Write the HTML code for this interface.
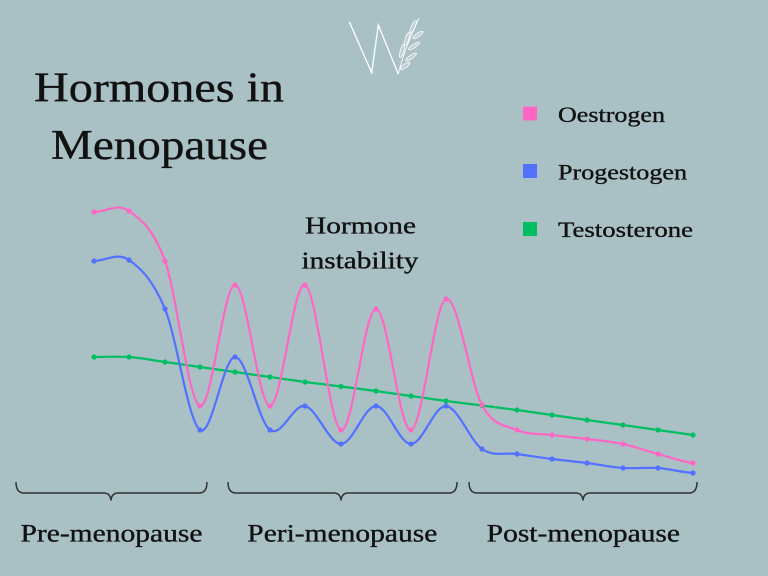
<!DOCTYPE html>
<html>
<head>
<meta charset="utf-8">
<style>
html,body{margin:0;padding:0;background:#a9c1c5;}
svg{display:block;}
text{font-family:"Liberation Serif",serif;fill:#111;stroke:#111;stroke-width:0.35;}
</style>
</head>
<body>
<svg width="768" height="576" viewBox="0 0 768 576" xmlns="http://www.w3.org/2000/svg">
<rect width="768" height="576" fill="#a9c1c5"/>

<!-- logo -->
<g fill="none" stroke="#fff" stroke-width="1.3" stroke-linejoin="miter">
  <polyline points="349.3,21.7 371.7,72.7 378.3,25 398.3,74"/>
  <path d="M398.3,74 Q404,50 419,18" stroke-width="0.9"/>
  <g stroke-width="0.8" fill="rgba(255,255,255,0.25)">
    <ellipse cx="413" cy="27" rx="1.8" ry="7" transform="rotate(25 413 27)"/>
    <ellipse cx="418" cy="35" rx="1.8" ry="6" transform="rotate(55 418 35)"/>
    <ellipse cx="407" cy="39" rx="1.8" ry="7" transform="rotate(20 407 39)"/>
    <ellipse cx="414" cy="46" rx="1.8" ry="6.5" transform="rotate(55 414 46)"/>
    <ellipse cx="402" cy="51" rx="1.8" ry="7" transform="rotate(15 402 51)"/>
    <ellipse cx="411" cy="57" rx="1.8" ry="6.5" transform="rotate(55 411 57)"/>
    <ellipse cx="405" cy="66" rx="1.8" ry="6" transform="rotate(55 405 66)"/>
  </g>
</g>

<!-- title -->
<text x="34" y="101.5" font-size="42" textLength="250" lengthAdjust="spacingAndGlyphs">Hormones in</text>
<text x="51" y="159" font-size="42" textLength="217" lengthAdjust="spacingAndGlyphs">Menopause</text>

<!-- annotation -->
<text x="305" y="233.3" font-size="24" textLength="111" lengthAdjust="spacingAndGlyphs">Hormone</text>
<text x="301.5" y="268.3" font-size="24" textLength="117" lengthAdjust="spacingAndGlyphs">instability</text>

<!-- legend -->
<rect x="523" y="106.5" width="14" height="14" fill="#ff66c4"/>
<rect x="523" y="164" width="14" height="14" fill="#5271ff"/>
<rect x="523" y="222" width="14" height="14" fill="#00bf63"/>
<text x="558" y="122" font-size="22.5" textLength="107" lengthAdjust="spacingAndGlyphs">Oestrogen</text>
<text x="558" y="179.5" font-size="22.5" textLength="129" lengthAdjust="spacingAndGlyphs">Progestogen</text>
<text x="558" y="237" font-size="22.5" textLength="135" lengthAdjust="spacingAndGlyphs">Testosterone</text>

<!-- series -->
<g fill="none" stroke-width="2.2" stroke-linecap="round">
<path stroke="#00bf63" d="M94,357 C105.75,357 117.25,356.17 129,357 C140.75,357.83 153.25,360.33 165,362 L200,367 L235,372 L270,377 L305,382 L341,386.5 L376,391 L411,396 L446,401 L482,405.5 L517,410 L552,415 L587,420 L623,425 L658,430 L693,435"/>
<path stroke="#5271ff" d="M94,261 C105.75,260.83 117.25,252 129,260 C140.75,268 153.25,280.67 165,309 C176.75,337.33 188.25,422 200,430 C211.75,438 223.25,357 235,357 C246.75,357 258.25,421.83 270,430 C281.75,438.17 293.25,403.67 305,406 C316.75,408.33 329.25,444 341,444 C352.75,444 364.25,406 376,406 C387.75,406 399.25,444 411,444 C422.75,444 434.25,405.17 446,406 C457.75,406.83 470.25,441 482,449 C493.75,457 505.25,452.33 517,454 C528.75,455.67 540.25,457.5 552,459 C563.75,460.5 575.25,461.5 587,463 C598.75,464.5 611.25,467.17 623,468 C634.75,468.83 646.25,467.17 658,468 C669.75,468.83 681.25,472.17 693,473"/>
<path stroke="#ff66c4" d="M94,212 C105.75,211.83 117.25,202.83 129,211 C140.75,219.17 153.25,228.5 165,261 C176.75,293.5 188.25,402 200,406 C211.75,410 223.25,285 235,285 C246.75,285 258.25,406 270,406 C281.75,406 293.25,281 305,285 C316.75,289 329.25,426 341,430 C352.75,434 364.25,309 376,309 C387.75,309 399.25,431.67 411,430 C422.75,428.33 434.25,303.17 446,299 C457.75,294.83 470.25,383.17 482,405 C493.75,426.83 505.25,425 517,430 C528.75,435 540.25,433.5 552,435 C563.75,436.5 575.25,437.5 587,439 C598.75,440.5 611.25,441.5 623,444 C634.75,446.5 646.25,450.83 658,454 C669.75,457.17 681.25,461.5 693,463"/>
</g>

<!-- markers -->
<g fill="#00bf63">
<circle cx="94" cy="357" r="2.6"/><circle cx="129" cy="357" r="2.6"/><circle cx="165" cy="362" r="2.6"/><circle cx="200" cy="367" r="2.6"/><circle cx="235" cy="372" r="2.6"/><circle cx="270" cy="377" r="2.6"/><circle cx="305" cy="382" r="2.6"/><circle cx="341" cy="386.5" r="2.6"/><circle cx="376" cy="391" r="2.6"/><circle cx="411" cy="396" r="2.6"/><circle cx="446" cy="401" r="2.6"/><circle cx="482" cy="405.5" r="2.6"/><circle cx="517" cy="410" r="2.6"/><circle cx="552" cy="415" r="2.6"/><circle cx="587" cy="420" r="2.6"/><circle cx="623" cy="425" r="2.6"/><circle cx="658" cy="430" r="2.6"/><circle cx="693" cy="435" r="2.6"/>
</g>
<g fill="#5271ff">
<circle cx="94" cy="261" r="2.6"/><circle cx="129" cy="260" r="2.6"/><circle cx="165" cy="309" r="2.6"/><circle cx="200" cy="430" r="2.6"/><circle cx="235" cy="357" r="2.6"/><circle cx="270" cy="430" r="2.6"/><circle cx="305" cy="406" r="2.6"/><circle cx="341" cy="444" r="2.6"/><circle cx="376" cy="406" r="2.6"/><circle cx="411" cy="444" r="2.6"/><circle cx="446" cy="406" r="2.6"/><circle cx="482" cy="449" r="2.6"/><circle cx="517" cy="454" r="2.6"/><circle cx="552" cy="459" r="2.6"/><circle cx="587" cy="463" r="2.6"/><circle cx="623" cy="468" r="2.6"/><circle cx="658" cy="468" r="2.6"/><circle cx="693" cy="473" r="2.6"/>
</g>
<g fill="#ff66c4">
<circle cx="94" cy="212" r="2.6"/><circle cx="129" cy="211" r="2.6"/><circle cx="165" cy="261" r="2.6"/><circle cx="200" cy="406" r="2.6"/><circle cx="235" cy="285" r="2.6"/><circle cx="270" cy="406" r="2.6"/><circle cx="305" cy="285" r="2.6"/><circle cx="341" cy="430" r="2.6"/><circle cx="376" cy="309" r="2.6"/><circle cx="411" cy="430" r="2.6"/><circle cx="446" cy="299" r="2.6"/><circle cx="482" cy="405" r="2.6"/><circle cx="517" cy="430" r="2.6"/><circle cx="552" cy="435" r="2.6"/><circle cx="587" cy="439" r="2.6"/><circle cx="623" cy="444" r="2.6"/><circle cx="658" cy="454" r="2.6"/><circle cx="693" cy="463" r="2.6"/>
</g>

<!-- braces -->
<g fill="none" stroke="#333" stroke-width="1.5" stroke-linejoin="round">
<path d="M16,482 Q16,493 24,493 L104,493 Q110,493 111,500 Q112,493 118,493 L199,493 Q207,493 207,482"/>
<path d="M228,482 Q228,493 236,493 L334,493 Q340,493 341,500 Q342,493 348,493 L449,493 Q457,493 457,482"/>
<path d="M469,482 Q469,493 477,493 L576,493 Q582,493 583,500 Q584,493 590,493 L689,493 Q697,493 697,482"/>
</g>

<!-- bottom labels -->
<text x="20.5" y="541.7" font-size="25" textLength="182" lengthAdjust="spacingAndGlyphs">Pre-menopause</text>
<text x="247.3" y="541.7" font-size="25" textLength="190" lengthAdjust="spacingAndGlyphs">Peri-menopause</text>
<text x="486.7" y="541.7" font-size="25" textLength="193.3" lengthAdjust="spacingAndGlyphs">Post-menopause</text>
</svg>
</body>
</html>
